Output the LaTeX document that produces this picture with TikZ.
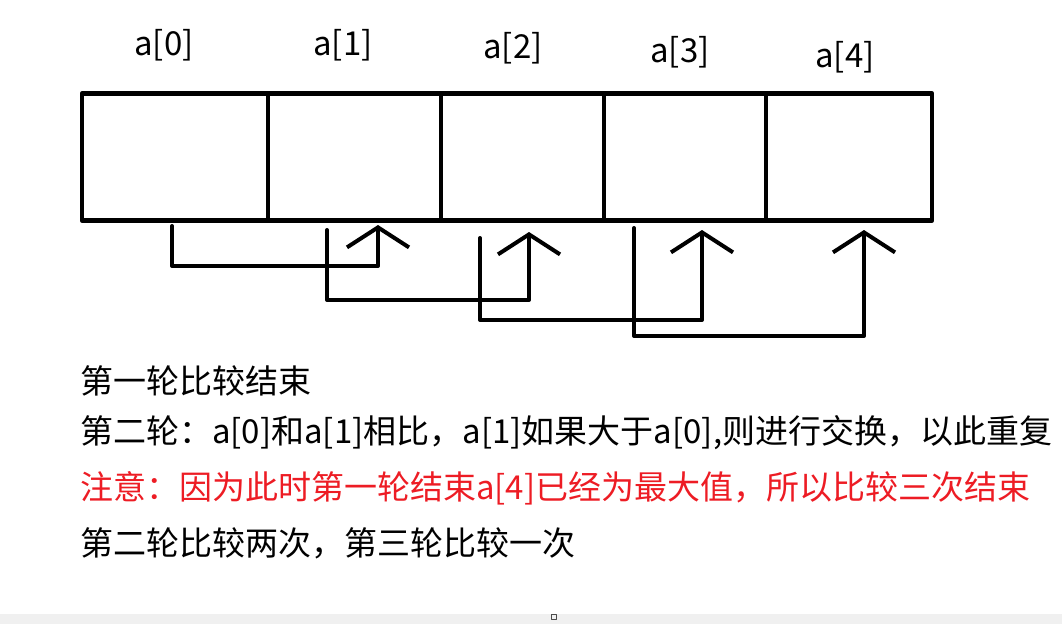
\documentclass[tikz,border=0pt]{standalone}
\usepackage{fontspec}
\setmainfont{Noto Sans CJK SC}
\usetikzlibrary{arrows.meta}
\definecolor{notered}{RGB}{237,28,36}
\definecolor{stripgray}{RGB}{240,240,240}

\begin{document}
\begin{tikzpicture}[x=1pt,y=-1pt,line cap=round,line join=round]
    \tikzset{cell/.style={draw, line width=4.6pt, minimum height=127pt, inner sep=0pt}}
    \tikzset{idx/.style={inner sep=0pt, font=\fontsize{33}{33}\selectfont}}
    \tikzset{link/.style={line width=4pt, -{Straight Barb[length=20pt,width=62pt]}}}
    \tikzset{note/.style={anchor=west, inner sep=0pt, font=\fontsize{33}{33}\selectfont}}
    \useasboundingbox (0,0) rectangle (1062,624);
    \fill [stripgray] (0,614) rectangle (1062,624);
    \draw [line width=0.8pt, black!70] (551,614.5) rectangle (556,619);
    % array cells
    \node [cell, minimum width=186pt] (cell0) at (175,157) {};
    \node [cell, minimum width=173pt] (cell1) at (354.5,157) {};
    \node [cell, minimum width=163pt] (cell2) at (522.5,157) {};
    \node [cell, minimum width=162pt] (cell3) at (685,157) {};
    \node [cell, minimum width=166pt] (cell4) at (849,157) {};
    \node [idx] (lab0) at (164,45) {a[0]};
    \node [idx] (lab1) at (343,45) {a[1]};
    \node [idx] (lab2) at (513,48) {a[2]};
    \node [idx] (lab3) at (680,52) {a[3]};
    \node [idx] (lab4) at (845,57) {a[4]};
    % swaps of the first round
    \coordinate (s0) at (172,226);
    \coordinate (t0) at (378,225);
    \coordinate (s1) at (327,230);
    \coordinate (t1) at (529,232);
    \coordinate (s2) at (480,238);
    \coordinate (t2) at (702,230);
    \coordinate (s3) at (634,228);
    \coordinate (t3) at (864,230);
    \draw [link] (s0) -- ++(0,40) -| (t0);
    \draw [link] (s1) -- ++(0,70) -| (t1);
    \draw [link] (s2) -- ++(0,82) -| (t2);
    \draw [link] (s3) -- ++(0,108) -| (t3);
    % notes
    \node [note] (line1) at (80,381) {第一轮比较结束};
    \node [note] (line2) at (80,433) {第二轮：a[0]和a[1]相比，a[1]如果大于a[0],则进行交换，以此重复};
    \node [note, text=notered] (line3) at (80,488) {注意：因为此时第一轮结束a[4]已经为最大值，所以比较三次结束};
    \node [note] (line4) at (80,543) {第二轮比较两次，第三轮比较一次};
\end{tikzpicture}
\end{document}
